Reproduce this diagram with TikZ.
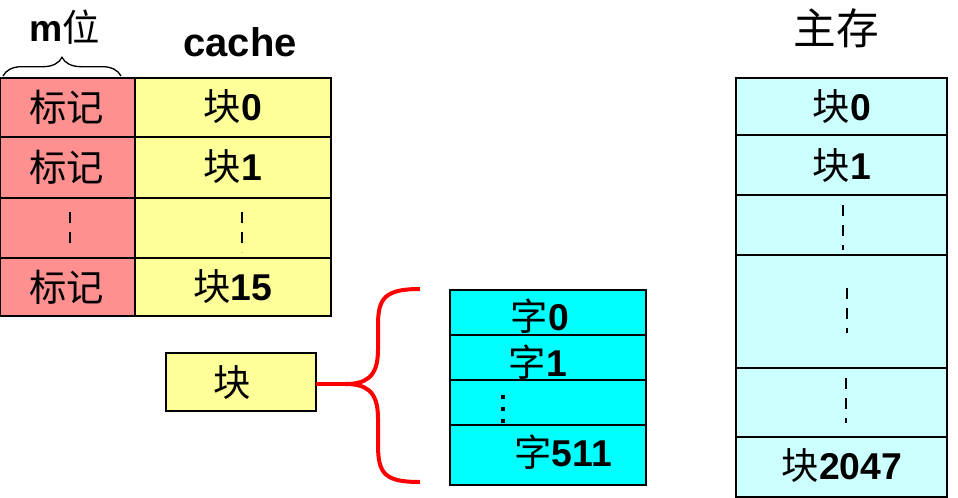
\documentclass[tikz,border=0pt]{standalone}
\usepackage{fontspec}
\setmainfont{Liberation Sans}
\newfontfamily\cjk{Noto Sans CJK SC}
\usetikzlibrary{decorations.pathreplacing}
\definecolor{tagred}{HTML}{FF9090}
\definecolor{blky}{HTML}{FFFF99}
\definecolor{wcyan}{HTML}{00FFFF}
\definecolor{mcyan}{HTML}{CCFFFF}
\begin{document}
\begin{tikzpicture}[x=0.75pt,y=-0.75pt,
  cell/.style={draw=black,line width=1.3pt},
  lbl/.style={font=\fontsize{28}{30}\selectfont},
  vdots/.style={line width=1.3pt,dash pattern=on 8pt off 7pt}]
\useasboundingbox (0,0) rectangle (958,497);
% cache
\foreach \a/\b in {78/137,137/198,198/258,258/316}{
  \filldraw[cell,fill=tagred] (0,\a) rectangle (135,\b);
  \filldraw[cell,fill=blky] (135,\a) rectangle (331,\b);}
\node[lbl] (t0) at (67,107) {\cjk 标记};
\node[lbl] (t1) at (67,167) {\cjk 标记};
\node[lbl] (t3) at (67,287) {\cjk 标记};
\node[lbl] (c0) at (233,107) {{\cjk 块}\textbf{0}};
\node[lbl] (c1) at (233,167) {{\cjk 块}\textbf{1}};
\node[lbl] (c3) at (233,287) {{\cjk 块}\textbf{15}};
\draw[vdots] (70,212) -- (70,250);
\draw[vdots] (242,212) -- (242,252);
\draw[decorate,decoration={brace,amplitude=14pt},line width=1pt] (3,76) -- (121,76);
\node[lbl] (mw) at (65,27) {\textbf{m}{\cjk 位}};
\node[lbl,font=\fontsize{30}{32}\selectfont\bfseries] (cache) at (240,42) {cache};
% small block
\filldraw[cell,fill=blky] (166,353) rectangle (316,411);
\node[lbl] (blk) at (232,383) {\cjk 块};
\coordinate (bt) at (345,384);
\draw[red,line width=3pt] (316,384) -- (bt);
\draw[red,line width=3pt] (420,289) .. controls (385,289) and (378,298) .. (378,325) -- (378,350) .. controls (378,378) and (365,384) .. (bt)
  .. controls (365,384) and (378,390) .. (378,418) -- (378,445) .. controls (378,474) and (385,482) .. (420,482);
% words
\foreach \a/\b in {290/335,335/380,380/425,425/485}{
  \filldraw[cell,fill=wcyan] (450,\a) rectangle (646,\b);}
\node[lbl] (w0) at (540,316) {{\cjk 字}\textbf{0}};
\node[lbl] (w1) at (538,362) {{\cjk 字}\textbf{1}};
\node[lbl] (w3) at (563,452) {{\cjk 字}\textbf{511}};
\draw[line width=2.5pt,dash pattern=on 3pt off 6pt] (503,395) -- (503,428);
% main memory
\foreach \a/\b in {78/135,135/195,195/255,255/368,368/437,437/497}{
  \filldraw[cell,fill=mcyan] (736,\a) rectangle (947,\b);}
\node[lbl,font=\fontsize{32}{34}\selectfont] (mm) at (836,28) {\cjk 主存};
\node[lbl] (m0) at (842,107) {{\cjk 块}\textbf{0}};
\node[lbl] (m1) at (842,166) {{\cjk 块}\textbf{1}};
\node[lbl] (m3) at (842,466) {{\cjk 块}\textbf{2047}};
\draw[vdots] (843,205) -- (843,250);
\draw[vdots] (847,288) -- (847,333);
\draw[vdots] (846,378) -- (846,423);
\end{tikzpicture}
\end{document}
